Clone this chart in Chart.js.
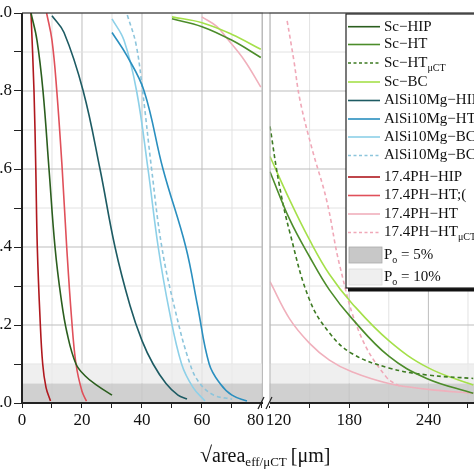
<!DOCTYPE html>
<html><head><meta charset="utf-8">
<script src="https://cdn.jsdelivr.net/npm/chart.js@4.4.1/dist/chart.umd.min.js"></script>
<style>html,body{margin:0;padding:0;overflow:hidden;background:#fff;width:474px;height:474px}
#wrap{position:absolute;left:-20px;top:0;width:494px;height:474px}</style>
</head><body><div id="wrap"><canvas id="c" width="494" height="474"></canvas></div>
<script>
const scHIP_x=[3,5,7,9,11,13,15,18,21,25,30];
const scHIP_y=[1.0,0.93,0.8,0.6,0.4,0.27,0.18,0.1,0.07,0.045,0.02];
const scHT_x=[50,60,70,79.6,100,120,135,150,165,182,210,238.7,274];
const scHT_y=[0.985,0.965,0.93,0.886,null,0.593,0.47,0.375,0.29,0.217,0.12,0.063,0.025];
const scHTct_x=[120,127,135.2,150,165,182,210,238.7,274];
const scHTct_y=[0.709,0.56,0.435,0.264,0.18,0.127,0.09,0.072,0.063];
const scBC_x=[50,60,70,79.6,100,120,135,150,165,182,210,240,274];
const scBC_y=[0.99,0.975,0.945,0.907,null,0.632,0.52,0.418,0.33,0.256,0.16,0.09,0.046];
const alHIP_x=[10,14,20.4,26,31,36,40,43.7,48,52,55];
const alHIP_y=[0.993,0.95,0.8,0.6,0.4,0.25,0.16,0.1,0.05,0.02,0.01];
const alHT_x=[30,35,40.7,47,54.6,58.5,62.4,66,70,75];
const alHT_y=[0.95,0.89,0.8,0.6,0.4,0.25,0.1,0.05,0.02,0.005];
const alBC_x=[30,34,38.2,42,45.4,49,53.2,57,61];
const alBC_y=[0.985,0.93,0.8,0.6,0.4,0.24,0.1,0.04,0.005];
const alBCct_x=[35.1,38,40.2,43.2,46.6,51,56,59.3,64,70];
const alBCct_y=[0.995,0.92,0.8,0.6,0.4,0.24,0.1,0.05,0.02,0.01];
const phHIP_x=[3,4,4.6,5.1,6,6.9,8,9.5];
const phHIP_y=[1.0,0.8,0.6,0.4,0.22,0.1,0.04,0.005];
const phHTq_x=[8.2,10,11.6,13.4,14.9,16.5,18,20,21.5];
const phHTq_y=[1.0,0.93,0.8,0.6,0.4,0.22,0.1,0.03,0.005];
const phHT_x=[59.9,65,68.3,74,79.6,100,120,135,150,165,182,210,240,274];
const phHT_y=[0.99,0.965,0.935,0.88,0.81,null,0.311,0.215,0.153,0.11,0.08,0.05,0.035,0.025];
const phHTct_x=[133,138,142.7,152,162.9,173,188,208,220];
const phHTct_y=[0.98,0.88,0.777,0.65,0.52,0.35,0.178,0.067,0.04];
const xTickLabels=[0,20,40,60,80,120,180,240];
const xMinor=[10,30,50,70,150,210,270];
const yTicks=[0,0.1,0.2,0.3,0.4,0.5,0.6,0.7,0.8,0.9,1.0];

const GAP=8/3;
const tx=v=>v<=80?v:80+GAP+(v-120)*0.44;
const series=[
 ['Sc\u2212HIP','','#2b5e1e',false,scHIP_x,scHIP_y],
 ['Sc\u2212HT','','#4c8c2a',false,scHT_x,scHT_y],
 ['Sc\u2212HT','\u03bcCT','#3d7a22',true,scHTct_x,scHTct_y],
 ['Sc\u2212BC','','#a5e04a',false,scBC_x,scBC_y],
 ['AlSi10Mg\u2212HIP','','#1d5b63',false,alHIP_x,alHIP_y],
 ['AlSi10Mg\u2212HT','','#2a8fbf',false,alHT_x,alHT_y],
 ['AlSi10Mg\u2212BC','','#8dd0e8',false,alBC_x,alBC_y],
 ['AlSi10Mg\u2212BC','\u03bcCT','#8dc5dc',true,alBCct_x,alBCct_y],
 ['17.4PH\u2212HIP','','#b0181e',false,phHIP_x,phHIP_y],
 ['17.4PH\u2212HT;(','','#e0505a',false,phHTq_x,phHTq_y],
 ['17.4PH\u2212HT','','#f0b0bc',false,phHT_x,phHT_y],
 ['17.4PH\u2212HT','\u03bcCT','#f0a8b8',true,phHTct_x,phHTct_y],
];
const datasets=series.map(s=>({label:s[0]+s[1],data:s[4].map((x,i)=>({x:tx(x),y:s[5][i]})),
 borderColor:s[2],borderWidth:1.6,borderDash:s[3]?[4,3]:[],pointRadius:0,tension:0.4,spanGaps:false,fill:false}));
const allXT=[...xTickLabels,...xMinor].map(tx).sort((a,b)=>a-b);
const isMajorX=v=>xTickLabels.some(t=>Math.abs(tx(t)-v)<1e-6);
const FONT='"Liberation Serif","DejaVu Serif",serif';

const bg={id:'bg',beforeDatasetsDraw(ch){
 const {ctx,chartArea:a,scales:{x,y}}=ch;ctx.save();
 allXT.forEach(v=>{if(v===0)return;const p=x.getPixelForValue(v);ctx.strokeStyle=isMajorX(v)?'#bdbdbd':'#e2e2e2';ctx.lineWidth=1;ctx.beginPath();ctx.moveTo(p,a.top);ctx.lineTo(p,a.bottom);ctx.stroke();});
 yTicks.forEach((v,i)=>{if(v===0)return;const p=y.getPixelForValue(v);ctx.strokeStyle=i%2===0?'#bdbdbd':'#e2e2e2';ctx.beginPath();ctx.moveTo(a.left,p);ctx.lineTo(a.right,p);ctx.stroke();});
 const y0=y.getPixelForValue(0),y5=y.getPixelForValue(0.05),y10=y.getPixelForValue(0.1);
 ctx.fillStyle='rgba(235,235,235,0.8)';ctx.fillRect(a.left,y10,a.right-a.left,y5-y10);
 ctx.fillStyle='rgba(200,200,200,0.85)';ctx.fillRect(a.left,y5,a.right-a.left,y0-y5);
 ctx.restore();},
 afterDatasetsDraw(ch){
 const {ctx,chartArea:a,scales:{x,y}}=ch;ctx.save();
 const g1=x.getPixelForValue(80)+1,g2=x.getPixelForValue(80+GAP);
 ctx.fillStyle='#fff';ctx.fillRect(g1,a.top-2,g2-g1-0.5,a.bottom-a.top+1);
 ctx.strokeStyle='#bbb';ctx.lineWidth=1;
 [g1-0.5,g2].forEach(p=>{ctx.beginPath();ctx.moveTo(p,a.top);ctx.lineTo(p,a.bottom);ctx.stroke();});
 ctx.strokeStyle='#222';ctx.lineWidth=1.2;ctx.beginPath();ctx.moveTo(a.left,a.top);ctx.lineTo(a.right,a.top);ctx.stroke();
 ctx.lineWidth=2;ctx.beginPath();ctx.moveTo(a.left,a.top);ctx.lineTo(a.left,a.bottom);ctx.lineTo(a.right,a.bottom);ctx.stroke();
 ctx.fillStyle='#fff';ctx.fillRect(g1,a.bottom-3,g2-g1,6);
 ctx.strokeStyle='#222';ctx.lineWidth=1.2;
 [g1-2,g2-1].forEach(p=>{ctx.beginPath();ctx.moveTo(p-3,a.bottom+6);ctx.lineTo(p+3,a.bottom-6);ctx.stroke();});
 const L=366,T=14,W=150,H=274;
 ctx.fillStyle='#111';ctx.fillRect(L+2,T+2,W,H+1.5);
 ctx.fillStyle='#fff';ctx.fillRect(L,T,W,H);ctx.strokeStyle='#222';ctx.lineWidth=1.2;ctx.strokeRect(L,T,W,H);
 const rows=[26.7,44.5,63,82,100.5,119,137,155.5,177,195.5,214,232.5];
 series.forEach((s,i)=>{const yy=rows[i];ctx.strokeStyle=s[2];ctx.lineWidth=1.6;ctx.setLineDash(s[3]?[3,2.5]:[]);
  ctx.beginPath();ctx.moveTo(L+2,yy);ctx.lineTo(L+34,yy);ctx.stroke();ctx.setLineDash([]);
  ctx.fillStyle='#111';ctx.font='15px '+FONT;ctx.textBaseline='middle';ctx.textAlign='left';ctx.fillText(s[0],L+38,yy);
  if(s[1]){const w=ctx.measureText(s[0]).width;ctx.font='10px '+FONT;ctx.fillText(s[1],L+38+w,yy+5);}});
 [[255,'#c8c8c8','#aaa','5%'],[277,'#efefef','#ddd','10%']].forEach(r=>{ctx.fillStyle=r[1];ctx.fillRect(L+3,r[0]-8,33,16);ctx.strokeStyle=r[2];ctx.lineWidth=0.8;ctx.strokeRect(L+3,r[0]-8,33,16);
  ctx.fillStyle='#111';ctx.font='15px '+FONT;ctx.fillText('P',L+38,r[0]);let w=ctx.measureText('P').width;ctx.font='10px '+FONT;ctx.fillText('o',L+38+w,r[0]+5);
  ctx.font='15px '+FONT;ctx.fillText(' = '+r[3],L+38+w+5,r[0]);});
 ctx.fillStyle='#111';ctx.textBaseline='alphabetic';ctx.textAlign='left';
 let px=220,py=462;ctx.font='22px '+FONT;ctx.fillText('\u221a',px,py);px+=ctx.measureText('\u221a').width;
 ctx.font='20px '+FONT;ctx.fillText('area',px,py);px+=ctx.measureText('area').width;
 ctx.font='13px '+FONT;ctx.fillText('eff/\u03bcCT',px,py+4);px+=ctx.measureText('eff/\u03bcCT').width+4;
 ctx.font='20px '+FONT;ctx.fillText('[\u03bcm]',px,py);
 ctx.restore();}};

new Chart(document.getElementById('c'),{type:'line',data:{datasets},
 options:{responsive:false,animation:false,devicePixelRatio:1,
 layout:{padding:{top:13,right:0,bottom:0,left:0}},
 plugins:{legend:{display:false},tooltip:{enabled:false}},
 scales:{
  x:{type:'linear',min:0,max:150.67,afterBuildTicks:s=>{s.ticks=allXT.map(v=>({value:v}));},
   afterFit:s=>{s.height=71;},
   grid:{drawOnChartArea:false,drawTicks:true,tickLength:5,color:'#222'},border:{display:false},
   ticks:{autoSkip:false,maxRotation:0,padding:2,color:'#111',font:{family:FONT,size:17},
    callback:function(v){const t=xTickLabels.find(t=>Math.abs(tx(t)-v)<1e-6);if(t===undefined)return '';if(t===80)return '80   ';if(t===120)return '    120';return String(t);}}},
  y:{type:'linear',min:0,max:1,afterBuildTicks:s=>{s.ticks=yTicks.map(v=>({value:v}));},
   afterFit:s=>{s.width=42;},
   grid:{drawOnChartArea:false,drawTicks:true,tickLength:8,color:'#222'},border:{display:false},
   ticks:{padding:2,color:'#111',font:{family:FONT,size:17},callback:(v,i)=>i%2===0?v.toFixed(1):''}}}},
 plugins:[bg]});
</script></body></html>
